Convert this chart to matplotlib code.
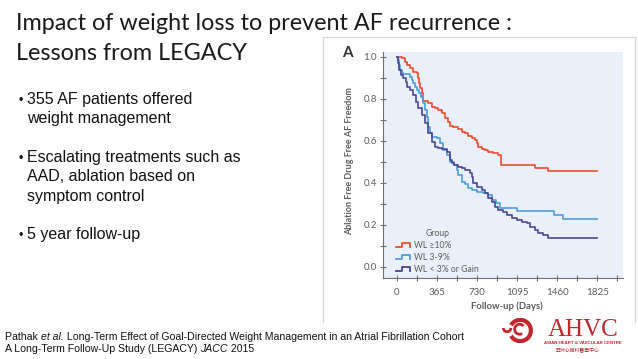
import numpy as np
import matplotlib
matplotlib.use("Agg")
import matplotlib.pyplot as plt
from matplotlib.lines import Line2D
from matplotlib.legend_handler import HandlerBase
from matplotlib.patches import Arc

# Kaplan-Meier steps (days, freedom)
red_t = [0, 45, 76, 91, 121, 152, 182, 197, 206, 212, 227, 236, 288, 318, 349, 379, 409, 440, 470,
         485, 515, 561, 591, 621, 652, 682, 712, 728, 743, 773, 803, 834, 879, 925, 946, 1258, 1379]
red_s = [1.0, 0.992, 0.976, 0.960, 0.944, 0.929, 0.921, 0.897, 0.873, 0.849, 0.825, 0.789, 0.778,
         0.762, 0.754, 0.746, 0.730, 0.706, 0.690, 0.670, 0.663, 0.654, 0.643, 0.635, 0.622, 0.611,
         0.603, 0.587, 0.571, 0.559, 0.556, 0.548, 0.543, 0.532, 0.484, 0.471, 0.457]
blue_t = [0, 9, 21, 30, 45, 61, 121, 136, 152, 167, 188, 206, 221, 243, 258, 273, 288, 303, 318, 364,
          394, 424, 455, 485, 521, 546, 561, 591, 621, 652, 682, 728, 788, 834, 864, 900, 940, 1091,
          1431, 1516]
blue_s = [1.0, 0.984, 0.960, 0.937, 0.921, 0.916, 0.905, 0.889, 0.873, 0.857, 0.841, 0.825, 0.810,
          0.778, 0.746, 0.714, 0.667, 0.635, 0.619, 0.611, 0.587, 0.556, 0.532, 0.500, 0.484, 0.460,
          0.437, 0.405, 0.394, 0.373, 0.365, 0.357, 0.349, 0.341, 0.317, 0.302, 0.278, 0.267, 0.246,
          0.225]
dark_t = [0, 9, 21, 36, 61, 85, 97, 121, 152, 176, 197, 227, 258, 288, 318, 349, 379, 409, 455, 485,
          500, 521, 561, 591, 621, 667, 682, 697, 728, 773, 803, 834, 864, 894, 925, 970, 1000, 1046,
          1091, 1137, 1182, 1213, 1258, 1288, 1334, 1379]
dark_s = [1.0, 0.968, 0.937, 0.913, 0.897, 0.881, 0.857, 0.841, 0.817, 0.786, 0.754, 0.722, 0.683,
          0.635, 0.595, 0.571, 0.563, 0.559, 0.548, 0.508, 0.492, 0.484, 0.476, 0.468, 0.460, 0.444,
          0.429, 0.397, 0.381, 0.365, 0.349, 0.325, 0.310, 0.286, 0.270, 0.262, 0.246, 0.230, 0.222,
          0.214, 0.206, 0.190, 0.175, 0.159, 0.151, 0.138]
END_DAY = 1825
groups = ["WL \u226510%", "WL 3-9%", "WL < 3% or Gain"]
colors = ["#ec4b2c", "#4a9ede", "#4a4790"]
x_ticks = [0, 365, 730, 1095, 1460, 1825]
y_ticks = [0.0, 0.2, 0.4, 0.6, 0.8, 1.0]

title_lines = ["Impact of weight loss to prevent AF recurrence :", "Lessons from LEGACY"]
bullets = [["355 AF patients offered", "weight management"],
           ["Escalating treatments such as", "AAD, ablation based on", "symptom control"],
           ["5 year follow-up"]]

W, H = 638, 359
GREY = "#5c5c5c"


def fx(px):
    return px / W


def fy(py):
    return 1 - py / H


class StepHandler(HandlerBase):
    def create_artists(self, legend, orig, xd, yd, w, h, fontsize, trans):
        xs = [0, 0.45 * w, 0.45 * w, w, w]
        ys = [0.15 * h, 0.15 * h, 0.8 * h, 0.8 * h, 0.15 * h]
        ln = Line2D(np.array(xs) - xd, np.array(ys) - yd, color=orig.get_color(), lw=1.3)
        ln.set_transform(trans)
        return [ln]


fig = plt.figure(figsize=(6.38, 3.59), dpi=100)
fig.patch.set_facecolor("white")

# slide title
for i, line in enumerate(title_lines):
    fig.text(fx(16), fy(29.5 + 30 * i), line, fontsize=16.8, family="Lato",
             color="#1a1a1a", va="baseline", ha="left")

# bullets
y = 104
for block in bullets:
    for j, line in enumerate(block):
        if j == 0:
            fig.text(fx(18.5), fy(y), "\u2022", fontsize=9, family="Liberation Sans", va="baseline", color="#111")
        fig.text(fx(27), fy(y), line, fontsize=11.5, family="Liberation Sans", va="baseline", color="#111")
        y += 19.3
    y += 19.3

# image frame
frame = dict(color="#d4d4d4", lw=0.8, transform=fig.transFigure)
fig.add_artist(Line2D([fx(323), fx(635)], [fy(37), fy(37)], **frame))
fig.add_artist(Line2D([fx(323), fx(323)], [fy(37), fy(322)], **frame))
fig.add_artist(Line2D([fx(635), fx(635)], [fy(37), fy(322)], **frame))

# KM chart
ax = fig.add_axes([fx(383.3), fy(278), 240 / W, 226.3 / H])
ax.set_facecolor("#eaf0f9")
series = [(red_t, red_s), (blue_t, blue_s), (dark_t, dark_s)]
handles = []
for (t, s), c, g in zip(series, colors, groups):
    ln, = ax.step(t + [END_DAY], s + [s[-1]], where="post", color=c, lw=1.2, label=g)
    handles.append(ln)

ax.set_xlim(-122, 2062)
ax.set_ylim(-0.054, 1.024)
for sp in ["top", "right"]:
    ax.spines[sp].set_visible(False)
for sp in ["left", "bottom"]:
    ax.spines[sp].set_color("#707070")
    ax.spines[sp].set_linewidth(0.8)
ax.set_xticks(x_ticks)
ax.set_xticks(np.arange(182.5, 2062, 365), minor=True)
ax.set_yticks(y_ticks)
ax.set_yticklabels([f"{v:.1f}" for v in y_ticks])
ax.set_yticks(np.arange(0.1, 1.0, 0.2), minor=True)
ax.tick_params(which="both", direction="inout", length=5, width=0.8, color="#707070")
ax.tick_params(axis="both", labelsize=7, labelcolor=GREY)
ax.tick_params(axis="y", pad=2)
ax.tick_params(axis="x", pad=4.5)
for lab in ax.get_xticklabels() + ax.get_yticklabels():
    lab.set_family("Lato")

fig.text(fx(350), fy(161), "Ablation Free Drug Free AF Freedom", rotation=90, fontsize=6.5,
         family="Lato", weight="bold", color=GREY, ha="center", va="center")
fig.text(fx(507), fy(306.5), "Follow-up (Days)", fontsize=6.8, family="Lato", weight="bold",
         color=GREY, ha="center", va="center")
fig.text(fx(347), fy(53), "A", fontsize=11, family="Lato", weight="bold", color="#333333",
         ha="center", va="center")

leg = ax.legend(handles=handles, loc="lower left", bbox_to_anchor=(0.02, -0.015), frameon=False,
                title="Group", fontsize=6.2, title_fontsize=6.2, handlelength=1.6, handletextpad=0.5,
                labelspacing=0.35, handler_map={Line2D: StepHandler()},
                prop={"family": "Lato", "size": 6.2})
leg.get_title().set_color(GREY)
leg.get_title().set_family("Lato")
for txt in leg.get_texts():
    txt.set_color(GREY)

# footer citation, mixed italic
renderer = fig.canvas.get_renderer()
foot = [[("Pathak ", "normal"), ("et al.", "italic"),
         (" Long-Term Effect of Goal-Directed Weight Management in an Atrial Fibrillation Cohort", "normal")],
        [("A Long-Term Follow-Up Study (LEGACY) ", "normal"), ("JACC", "italic"), (" 2015", "normal")]]
for k, segs in enumerate(foot):
    xpos = fx(5)
    for txt, style in segs:
        t = fig.text(xpos, fy(339.5 + 12 * k), txt, fontsize=7.6, family="Liberation Sans", style=style,
                     color="#111", va="baseline", ha="left")
        bb = t.get_window_extent(renderer)
        xpos = bb.x1 / fig.bbox.width

# AHVC logo
red = "#c1272d"
fig.text(fx(583), fy(330), "AHVC", fontsize=18, family="Liberation Serif", color=red,
         ha="center", va="center")
fig.text(fx(583), fy(343.5), "ASIAN HEART & VASCULAR CENTRE", fontsize=3.2, family="Liberation Sans",
         weight="bold", color=red, ha="center", va="center")
fig.text(fx(578), fy(350.5), "\u4e9e\u6d32\u5fc3\u81df\u79d1\u91ab\u5b78\u4e2d\u5fc3", fontsize=3.5,
         family="Noto Sans CJK TC", color=red, ha="center", va="center")
lax = fig.add_axes([fx(500), fy(343), 38 / W, 25 / H])
lax.set_xlim(-1.5, 1.5)
lax.set_ylim(-1.0, 1.0)
lax.set_aspect("equal")
lax.axis("off")
lax.add_patch(Arc((0.1, 0), 1.7, 1.7, theta1=-150, theta2=150, color=red, lw=3))
lax.add_patch(Arc((0.05, 0.1), 0.8, 0.8, theta1=40, theta2=300, color=red, lw=2))
lax.add_patch(Arc((-0.95, 0.2), 0.6, 0.6, theta1=180, theta2=360, color=red, lw=2))

fig.savefig("out.png", dpi=100)
